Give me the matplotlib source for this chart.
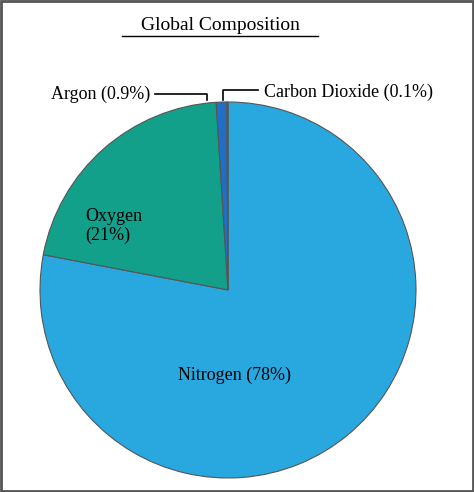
import matplotlib
matplotlib.use("Agg")
import matplotlib.pyplot as plt
from matplotlib.patches import Rectangle

labels = ["Nitrogen", "Oxygen", "Argon", "Carbon Dioxide"]
values = [78, 21, 0.9, 0.1]
colors = ["#29A8E0", "#13A08A", "#1F6FC6", "#E02424"]
explode = [0, 0.1, 0.04, 0.04]

plt.rcParams['font.family'] = ['Liberation Serif', 'DejaVu Serif']
fig = plt.figure(figsize=(4.74, 4.92), dpi=100)
ax = fig.add_axes([0, 0, 1, 1])
H = 492
ax.pie(values, colors=colors, explode=explode, startangle=90, counterclock=False,
       center=(228, H - 290), radius=188,
       wedgeprops=dict(edgecolor="#555555", linewidth=0.8))
ax.set_xlim(0, 474)
ax.set_ylim(0, H)
ax.set_aspect('equal')
ax.axis('off')

ax.add_patch(Rectangle((1, 1), 472, H - 2, fill=False, edgecolor="#555555", lw=2))
ax.text(220, H - 25, "Global Composition", ha='center', va='center', fontsize=14)
ax.plot([122, 318], [H - 36, H - 36], color='black', lw=1)

ax.text(235, H - 375, "Nitrogen (78%)", ha='center', va='center', fontsize=13)
ax.text(85, H - 226, "Oxygen\n(21%)", ha='left', va='center', fontsize=13)
ax.text(150, H - 94, "Argon (0.9%)", ha='right', va='center', fontsize=13)
ax.plot([155, 207, 207], [H - 94, H - 94, H - 100], color='black', lw=1.2)
ax.text(264, H - 92, "Carbon Dioxide (0.1%)", ha='left', va='center', fontsize=13)
ax.plot([223, 223, 258], [H - 100, H - 90, H - 90], color='black', lw=1.2)

fig.savefig("out.png", dpi=100)
